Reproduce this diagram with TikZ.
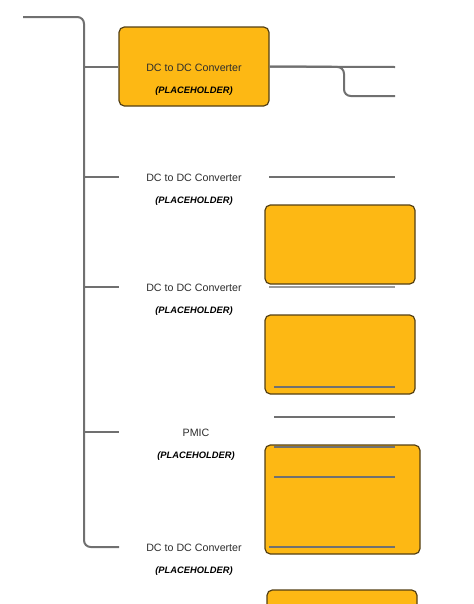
\documentclass[tikz,border=0pt]{standalone}
\usepackage{fontspec}
\setmainfont{Liberation Sans}
\usetikzlibrary{positioning}

\definecolor{blockfill}{RGB}{253,184,20}
\definecolor{blockdraw}{RGB}{84,64,20}
\definecolor{wiregray}{RGB}{112,112,112}
\definecolor{titlegray}{RGB}{45,45,45}

\begin{document}
\begin{tikzpicture}[
        x=0.75pt, y=-0.75pt,
        % --- styles ---
        % 1. orange blocks
        block/.style={
                draw=blockdraw,
                fill=blockfill,
                line width=0.9pt,
                rounded corners=4pt,
                minimum width=112.5pt,
                minimum height=59.25pt,
                inner sep=0pt
            },
        % 2. wires
        wire/.style={
                draw=wiregray,
                line width=1.5pt
            },
        % 3. texts
        title/.style={
                font=\fontsize{8}{9.6}\selectfont,
                color=titlegray,
                inner sep=0pt
            },
        tag/.style={
                font=\fontsize{7}{8.4}\selectfont\bfseries\itshape,
                inner sep=0pt
            }
    ]

    \useasboundingbox (0,0) rectangle (474,604);
    \clip (0,0) rectangle (474,604);

    % 1. Blocks
    \node[block] (conv1) at (194,66.5) {};
    \node[block] (blk2) at (340,244.5) {};
    \node[block] (blk3) at (340,354.5) {};
    \node[block, minimum width=116.25pt, minimum height=81.75pt] (blk4) at (342.5,499.5) {};
    \node[block] (blk5) at (342,629.5) {};

    % 2. Texts
    \node[title] (t1) at (194,67.5) {DC to DC Converter};
    \node[tag] (p1) at (194,91.5) {(PLACEHOLDER)};
    \node[title] (t2) at (194,177.5) {DC to DC Converter};
    \node[tag] (p2) at (194,201.5) {(PLACEHOLDER)};
    \node[title] (t3) at (194,287.5) {DC to DC Converter};
    \node[tag] (p3) at (194,311.5) {(PLACEHOLDER)};
    \node[title] (t4) at (196,432.5) {PMIC};
    \node[tag] (p4) at (196,456.5) {(PLACEHOLDER)};
    \node[title] (t5) at (194,547.5) {DC to DC Converter};
    \node[tag] (p5) at (194,571.5) {(PLACEHOLDER)};

    % 3. Bus on the left
    \coordinate (src) at (23,17);
    \coordinate (bustop) at (84,17);
    \coordinate (busbot) at (84,547);
    \coordinate (tap2) at (119,177);
    \coordinate (tap3) at (119,287);
    \coordinate (tap4) at (119,432);
    \coordinate (tap5) at (119,547);

    \draw[wire, rounded corners=5pt] (src) -- (bustop) -- (busbot) -- (tap5);
    \draw[wire] (bustop |- conv1.west) -- (conv1.west);
    \foreach \k in {2,3,4}
        \draw[wire] (bustop |- tap\k) -- (tap\k);

    % 4. Outputs on the right
    \coordinate (out1a) at (395,67);
    \coordinate (bend1) at (344,67);
    \coordinate (out1b) at (395,96);
    \draw[wire] (conv1.east) -- (out1a);
    \draw[wire, rounded corners=5pt] (conv1.east) -- (bend1) -- (bend1 |- out1b) -- (out1b);

    % loose stubs
    \draw[wire] (269,177) coordinate (s2a) -- (395,177) coordinate (s2b);
    \draw[wire, draw=wiregray!70] (269,287) coordinate (s3a) -- (395,287) coordinate (s3b);
    \draw[wire] (274,387) coordinate (s4a) -- (395,387) coordinate (s4b);
    \draw[wire] (274,417) coordinate (s5a) -- (395,417) coordinate (s5b);
    \draw[wire] (274,447) coordinate (s6a) -- (395,447) coordinate (s6b);
    \draw[wire] (274,477) coordinate (s7a) -- (395,477) coordinate (s7b);
    \draw[wire] (269,547) coordinate (s8a) -- (395,547) coordinate (s8b);

\end{tikzpicture}
\end{document}
